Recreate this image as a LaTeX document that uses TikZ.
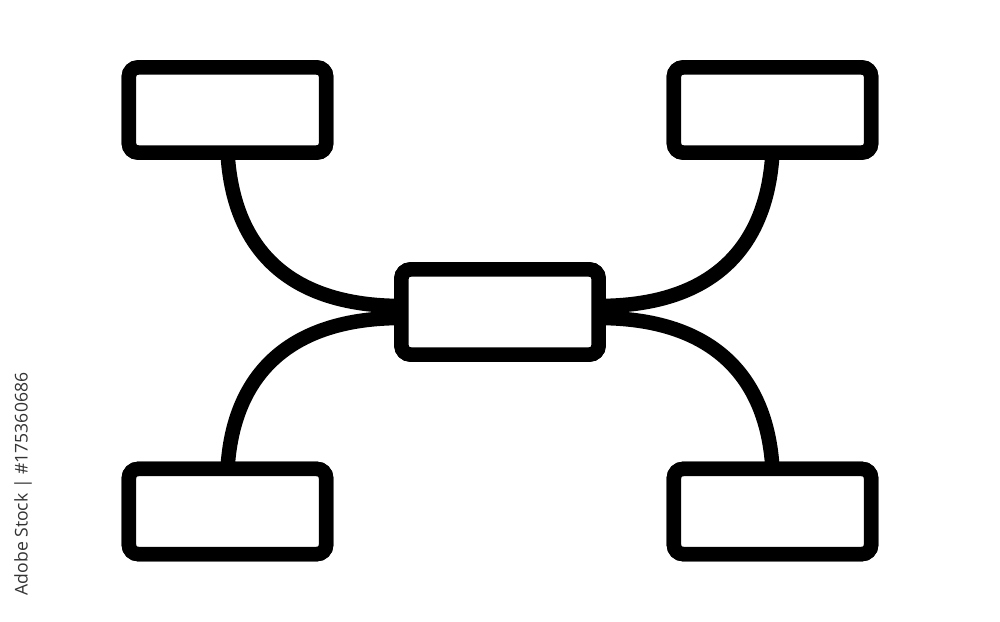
\documentclass[tikz,border=0pt]{standalone}
\usepackage{fontspec}
\newfontfamily\wmfont{Open Sans}
\usetikzlibrary{calc}
\definecolor{wmgray}{HTML}{333333}
\begin{document}
\begin{tikzpicture}[x=0.01cm,y=-0.01cm,
  box/.style={draw=black,line width=0.145cm,fill=white,rounded corners=0.09cm,
    minimum width=1.97cm,minimum height=0.85cm,inner sep=0pt,outer sep=0pt},
  link/.style={draw=black,line width=0.145cm},
  wm/.style={text=wmgray,font=\wmfont\fontsize{5.0}{6}\selectfont,rotate=90,inner sep=0pt}]
\useasboundingbox[fill=white] (0,0) rectangle (1000,622);
\path (500,312) coordinate (ctr)
      (227.5,110) coordinate (tlc) (772.5,110) coordinate (trc)
      (227.5,511.5) coordinate (blc) (772.5,511.5) coordinate (brc);
\node[box] (c) at (ctr) {};
\node[box] (tl) at (tlc) {};
\node[box] (tr) at (trc) {};
\node[box] (bl) at (blc) {};
\node[box] (br) at (brc) {};
\draw[link] (tl.south) .. controls (233,250) and (290,306) .. ($(c.west)+(0,-6)$);
\draw[link] (bl.north) .. controls (233,374) and (290,318) .. ($(c.west)+(0,6)$);
\draw[link] (tr.south) .. controls (767,250) and (710,306) .. ($(c.east)+(0,-6)$);
\draw[link] (br.north) .. controls (767,374) and (710,318) .. ($(c.east)+(0,6)$);
% boxes again on top of the connector ends
\node[box] at (ctr) {};
\node[box] at (tlc) {};
\node[box] at (trc) {};
\node[box] at (blc) {};
\node[box] at (brc) {};
\node[wm,anchor=center] (wmark) at (23,484) {Adobe Stock | \#175360686};
\end{tikzpicture}
\end{document}
